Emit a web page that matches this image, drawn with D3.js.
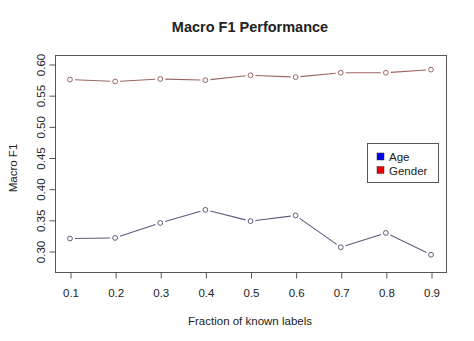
<!DOCTYPE html>
<html>
<head>
<meta charset="utf-8">
<script src="https://cdn.jsdelivr.net/npm/d3@7"></script>
<style>
  body { margin: 0; background: #fff; }
  text { font-family: "Liberation Sans", Arial, sans-serif; fill: #222; }
</style>
</head>
<body>
<svg width="474" height="341"></svg>
<script>
var fractions = [0.1, 0.2, 0.3, 0.4, 0.5, 0.6, 0.7, 0.8, 0.9];
var ageF1 = [0.320, 0.321, 0.345, 0.366, 0.348, 0.357, 0.306, 0.329, 0.294];
var genderF1 = [0.575, 0.572, 0.576, 0.574, 0.582, 0.579, 0.586, 0.586, 0.591];
var yTicks = [0.30, 0.35, 0.40, 0.45, 0.50, 0.55, 0.60];
var legendNames = ["Age", "Gender"];
var legendColors = ["#0000ee", "#ee0000"];

var svg = d3.select("svg");
var box = {left: 55, right: 446, top: 55, bottom: 272};

var x = d3.scaleLinear().domain([0.1, 0.9]).range([70, 431]);
var y = d3.scaleLinear().domain([0.30, 0.60]).range([251, 64]);

// plot box
svg.append("rect")
    .attr("x", box.left + 0.5).attr("y", box.top + 0.5)
    .attr("width", box.right - box.left).attr("height", box.bottom - box.top)
    .attr("fill", "none").attr("stroke", "#555");

// axes
var xAxis = svg.append("g")
    .attr("transform", "translate(0.5," + (box.bottom + 0.5) + ")")
    .call(d3.axisBottom(x).tickValues(fractions).tickSize(6).tickPadding(10).tickFormat(d3.format(".1f")));
xAxis.select(".domain").remove();
xAxis.selectAll("line").attr("stroke", "#555");
xAxis.selectAll("text").attr("font-size", 11.5).attr("fill", "#222")
    .attr("font-family", "Liberation Sans, Arial, sans-serif");

var yAxis = svg.append("g")
    .attr("transform", "translate(" + (box.left + 0.5) + ",0.5)")
    .call(d3.axisLeft(y).tickValues(yTicks).tickSize(6).tickFormat(d3.format(".2f")));
yAxis.select(".domain").remove();
yAxis.selectAll("line").attr("stroke", "#555");
yAxis.selectAll("text")
    .attr("font-size", 11.5).attr("fill", "#222")
    .attr("font-family", "Liberation Sans, Arial, sans-serif")
    .attr("text-anchor", "middle")
    .attr("x", 0).attr("dy", 0)
    .attr("transform", "translate(-14,0) rotate(-90)")
    .attr("dominant-baseline", "middle");

// titles
svg.append("text").attr("x", 250).attr("y", 32)
    .attr("text-anchor", "middle").attr("font-size", 14.5).attr("font-weight", "bold")
    .text("Macro F1 Performance");
svg.append("text").attr("x", 250).attr("y", 325)
    .attr("text-anchor", "middle").attr("font-size", 11.5)
    .text("Fraction of known labels");
svg.append("text").attr("transform", "translate(17,168) rotate(-90)")
    .attr("text-anchor", "middle").attr("font-size", 11.5)
    .text("Macro F1");

// series (R type = "b": lines with gaps round the points)
function drawSeries(vals, color) {
    var pts = fractions.map(function (f, i) { return [x(f), y(vals[i])]; });
    var gap = 5;
    for (var i = 0; i < pts.length - 1; i++) {
        var a = pts[i], b = pts[i + 1];
        var dx = b[0] - a[0], dy = b[1] - a[1];
        var len = Math.sqrt(dx * dx + dy * dy);
        var ux = dx / len, uy = dy / len;
        svg.append("line")
            .attr("x1", a[0] + ux * gap).attr("y1", a[1] + uy * gap)
            .attr("x2", b[0] - ux * gap).attr("y2", b[1] - uy * gap)
            .attr("stroke", color).attr("stroke-width", 1.1);
    }
    svg.append("g").selectAll("circle")
        .data(pts)
        .enter().append("circle")
        .attr("cx", function (d) { return d[0]; })
        .attr("cy", function (d) { return d[1]; })
        .attr("r", 2.4)
        .attr("fill", "none")
        .attr("stroke", color)
        .attr("stroke-width", 1);
}
drawSeries(ageF1, "#5c5c7c");
drawSeries(genderF1, "#9c6464");

// legend
var lg = svg.append("g");
lg.append("rect").attr("x", 367.5).attr("y", 143.5).attr("width", 71).attr("height", 39)
    .attr("fill", "#fff").attr("stroke", "#555");
legendNames.forEach(function (name, i) {
    lg.append("rect").attr("x", 377).attr("y", 153 + i * 13.5).attr("width", 7).attr("height", 7)
        .attr("fill", legendColors[i]).attr("stroke", "#333").attr("stroke-width", 0.5);
    lg.append("text").attr("x", 389).attr("y", 161 + i * 13.5)
        .attr("font-size", 11.5).text(name);
});
</script>
</body>
</html>
